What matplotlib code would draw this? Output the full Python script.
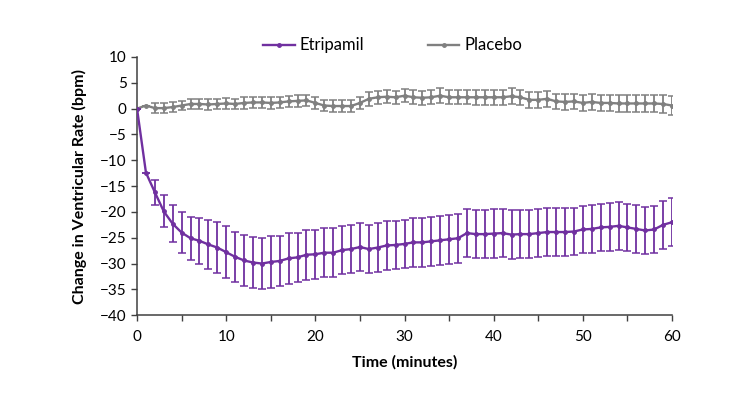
#------------------------------------------------------------------
# Change in ventricular rate, etripamil vs placebo
#------------------------------------------------------------------

import matplotlib
matplotlib.use('Agg')
import matplotlib.pyplot as plt
from matplotlib.lines import Line2D
import numpy as np

#============= Data =============

time_min = np.arange(0, 61)

etripamil = [0.0, -12.4, -16.2, -19.9, -22.3, -24.0, -25.1, -25.6, -26.3, -26.9,
             -27.8, -28.7, -29.4, -29.8, -30.0, -29.7, -29.5, -29.0, -28.8, -28.3,
             -28.2, -27.9, -27.9, -27.4, -27.2, -26.8, -27.2, -26.9, -26.5, -26.4,
             -26.2, -25.9, -25.9, -25.7, -25.5, -25.3, -25.1, -24.1, -24.3, -24.3,
             -24.2, -24.1, -24.4, -24.3, -24.3, -24.1, -23.9, -23.9, -23.9, -23.8,
             -23.4, -23.3, -23.0, -22.9, -22.7, -23.0, -23.3, -23.6, -23.4, -22.5,
             -22.0]
etripamil_err = [0.0, 0.0, 2.4, 3.1, 3.6, 3.9, 4.2, 4.5, 4.7, 4.9,
                 5.0, 4.9, 5.0, 5.0, 5.0, 5.0, 4.9, 4.9, 4.8, 4.8,
                 4.7, 4.7, 4.7, 4.7, 4.7, 4.7, 4.7, 4.7, 4.7, 4.7,
                 4.7, 4.7, 4.7, 4.7, 4.7, 4.7, 4.7, 4.6, 4.6, 4.6,
                 4.7, 4.7, 4.7, 4.6, 4.6, 4.6, 4.6, 4.6, 4.6, 4.6,
                 4.6, 4.6, 4.6, 4.6, 4.6, 4.6, 4.6, 4.6, 4.6, 4.6,
                 4.6]

placebo = [0.0, 0.6, 0.1, 0.1, 0.3, 0.6, 0.9, 0.9, 0.8, 0.9,
           1.0, 0.9, 1.1, 1.2, 1.2, 1.1, 1.2, 1.4, 1.5, 1.6,
           1.1, 0.6, 0.5, 0.5, 0.5, 1.1, 1.9, 2.2, 2.3, 2.2,
           2.5, 2.2, 2.1, 2.2, 2.5, 2.2, 2.2, 2.2, 2.2, 2.2,
           2.2, 2.2, 2.4, 2.2, 1.7, 1.7, 1.9, 1.4, 1.3, 1.4,
           1.1, 1.3, 1.1, 1.1, 1.0, 1.0, 1.0, 1.0, 1.0, 0.9,
           0.6]
placebo_err = [0.0, 0.0, 0.9, 0.9, 0.9, 0.9, 1.0, 1.0, 1.0, 1.0,
               1.0, 1.0, 1.1, 1.1, 1.1, 1.1, 1.1, 1.1, 1.1, 1.1,
               1.1, 1.1, 1.1, 1.1, 1.1, 1.2, 1.3, 1.3, 1.3, 1.3,
               1.3, 1.4, 1.4, 1.4, 1.4, 1.4, 1.4, 1.4, 1.5, 1.5,
               1.5, 1.5, 1.6, 1.5, 1.5, 1.5, 1.5, 1.5, 1.5, 1.5,
               1.5, 1.5, 1.6, 1.6, 1.6, 1.6, 1.6, 1.6, 1.6, 1.7,
               1.8]

x_ticks = [0, 10, 20, 30, 40, 50, 60]
y_ticks = [10, 5, 0, -5, -10, -15, -20, -25, -30, -35, -40]

#============= Plot =============

plt.rcParams['font.family'] = ['Lato', 'DejaVu Sans']

purple = '#7030a0'
grey = '#808080'

fig = plt.figure(figsize=(7.5, 3.93), dpi=100)
ax = fig.add_axes([0.1827, 0.198, 0.7133, 0.657])

ax.errorbar(time_min, placebo, yerr=placebo_err, color=grey, lw=1.7,
            marker='o', ms=2.5, elinewidth=1.3, capsize=3, capthick=1.1,
            zorder=2)
ax.errorbar(time_min, etripamil, yerr=etripamil_err, color=purple, lw=1.7,
            marker='o', ms=2.5, elinewidth=1.3, capsize=3, capthick=1.1,
            zorder=3)

ax.set_xlim(0, 60)
ax.set_ylim(-40, 10)
ax.set_xticks(x_ticks)
ax.set_xticks(np.arange(0, 61, 5), minor=True)
ax.set_yticks(y_ticks)
ax.tick_params(axis='both', which='both', direction='out', labelsize=11,
               length=4, width=1, color='#404040')
ax.tick_params(axis='x', which='major', pad=7)

for side in ['top', 'right']:
    ax.spines[side].set_visible(False)
for side in ['left', 'bottom']:
    ax.spines[side].set_color('#404040')
    ax.spines[side].set_linewidth(1.1)

ax.set_xlabel('Time (minutes)', fontsize=11.5, fontweight='bold', labelpad=8)
ax.set_ylabel('Change in Ventricular Rate (bpm)', fontsize=11.5,
              fontweight='bold', labelpad=9)

# plain line + dot handles, no error bar glyph in legend
handles = [Line2D([], [], color=purple, lw=1.7, marker='o', ms=2.5),
           Line2D([], [], color=grey, lw=1.7, marker='o', ms=2.5)]
ax.legend(handles, ['Etripamil', 'Placebo'], loc='center',
          bbox_to_anchor=(0.478, 1.045), ncol=2, frameon=False,
          fontsize=12, handlelength=1.9, columnspacing=3.8,
          handletextpad=0.3)

fig.savefig('out.png', dpi=100)
